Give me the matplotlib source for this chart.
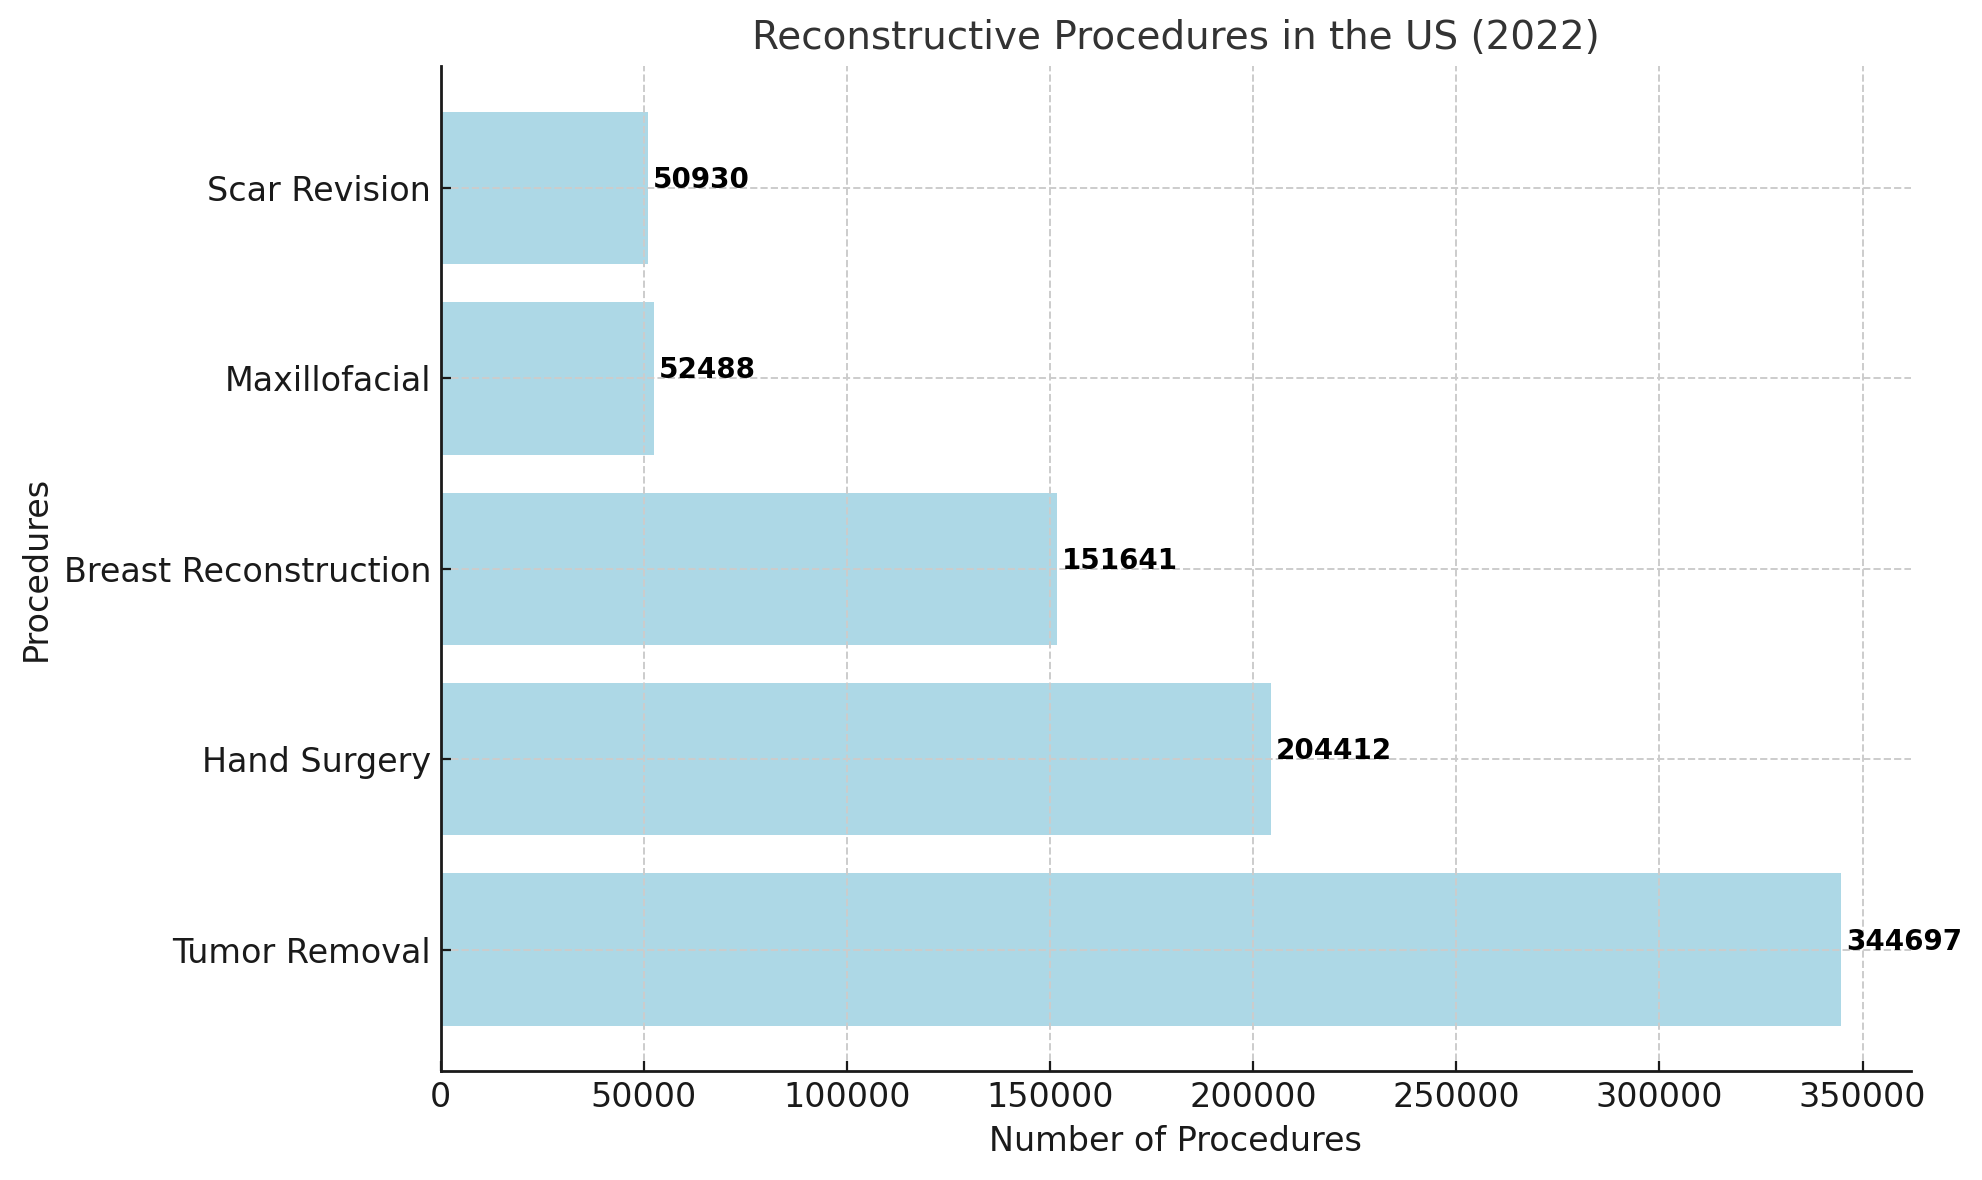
import matplotlib
matplotlib.use("Agg")
import matplotlib.pyplot as plt

procedures = ["Tumor Removal", "Hand Surgery", "Breast Reconstruction", "Maxillofacial", "Scar Revision"]
counts = [344697, 204412, 151641, 52488, 50930]

fig, ax = plt.subplots(figsize=(9.915, 5.9), dpi=200)
fig.subplots_adjust(left=0.2223, right=0.9637, top=0.944, bottom=0.092)

ax.barh(procedures, counts, color="lightblue", height=0.8)
for i, v in enumerate(counts):
    ax.text(v + 1200, i, str(v), fontsize=10, fontweight="bold", color="black")

ax.set_title("Reconstructive Procedures in the US (2022)", fontsize=14, color="#333333")
ax.set_xlabel("Number of Procedures", fontsize=12, color="#1a1a1a")
ax.set_ylabel("Procedures", fontsize=12, color="#1a1a1a")
ax.tick_params(axis="both", labelsize=12, colors="#1a1a1a", direction="in")
ax.grid(True, linestyle="--", color="#cccccc", linewidth=0.7)
for s in ["top", "right"]:
    ax.spines[s].set_visible(False)
for s in ["left", "bottom"]:
    ax.spines[s].set_color("#1a1a1a")
    ax.spines[s].set_linewidth(1.0)

fig.savefig("out.png", dpi=200)
